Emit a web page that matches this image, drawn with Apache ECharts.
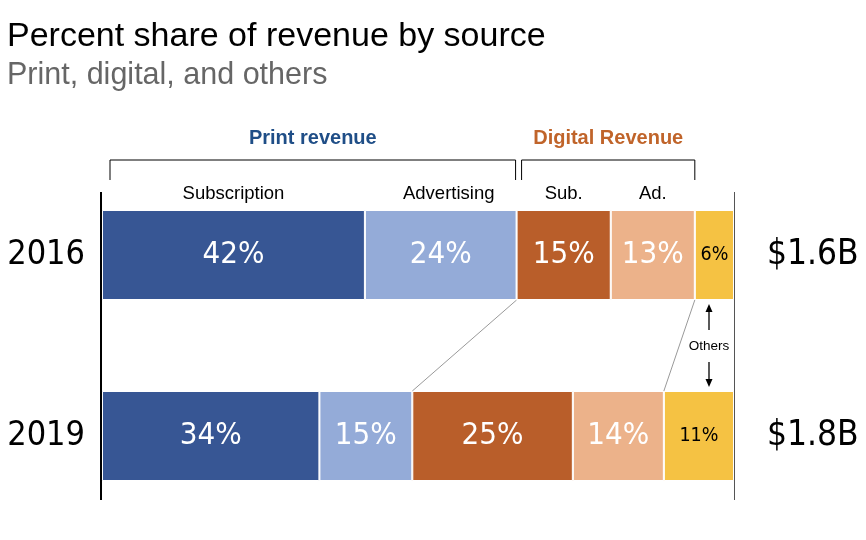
<!DOCTYPE html>
<html>
<head>
<meta charset="utf-8">
<script src="https://cdn.jsdelivr.net/npm/echarts@6/dist/echarts.min.js"></script>
<style>
  html, body { margin: 0; padding: 0; background: #fff; }
  #chart { width: 866px; height: 540px; }
</style>
</head>
<body>
<div id="chart"></div>
<script>
// data (percent share of each year's revenue)
var years = ['2016', '2019'];
var totals = ['$1.6B', '$1.8B'];
var sources = ['Subscription', 'Advertising', 'Sub.', 'Ad.', 'Others'];
var printSub = [41.6, 34.4];
var printAd = [24.0, 14.7];
var digitalSub = [14.9, 25.4];
var digitalAd = [13.3, 14.4];
var others = [6.2, 11.1];
var groups = ['Print revenue', 'Digital Revenue'];

var colors = ['#375694', '#94abd8', '#b95e2a', '#ecb28a', '#f5c243'];
var numFont = '"DejaVu Sans Condensed", "DejaVu Sans", sans-serif';
var txtFont = '"Liberation Sans", Arial, sans-serif';

var chart = echarts.init(document.getElementById('chart'));

var values = [printSub, printAd, digitalSub, digitalAd, others];
var series = values.map(function (vals, i) {
  var small = i === 4;
  return {
    name: sources[i],
    type: 'bar',
    stack: 'share',
    barWidth: 90,
    data: vals,
    itemStyle: { color: colors[i], borderColor: '#fff', borderWidth: 1 },
    label: {
      show: true,
      position: 'inside',
      color: small ? '#000' : '#fff',
      fontSize: small ? 19.5 : 31,
      fontFamily: numFont,
      formatter: function (p) { return Math.round(p.value) + '%'; }
    },
    emphasis: { disabled: true },
    silent: true
  };
});

var option = {
  animation: false,
  title: {
    text: 'Percent share of revenue by source',
    subtext: 'Print, digital, and others',
    left: 2,
    top: 15,
    itemGap: 6,
    textStyle: { fontSize: 34, fontWeight: 'normal', color: '#000', fontFamily: txtFont },
    subtextStyle: { fontSize: 30.5, color: '#666', fontFamily: txtFont }
  },
  grid: { left: 102, right: 132, top: 164.5, height: 362 },
  xAxis: { type: 'value', min: 0, max: 100, show: false },
  yAxis: [
    {
      type: 'category',
      data: years,
      inverse: true,
      axisLine: { show: false },
      axisTick: { show: false },
      axisLabel: { fontSize: 34, color: '#000', margin: 17, fontFamily: numFont }
    },
    {
      type: 'category',
      position: 'right',
      data: totals,
      inverse: true,
      axisLine: { show: false },
      axisTick: { show: false },
      axisLabel: { fontSize: 35, color: '#000', margin: 33, fontFamily: numFont }
    }
  ],
  series: series
};

chart.setOption(option);

// annotations placed through the chart's own scales
function px(v, row) {
  return chart.convertToPixel({ xAxisIndex: 0, yAxisIndex: 0 }, [v, row]);
}
var half = 45;
var top16 = px(0, 0)[1] - half, bot16 = px(0, 0)[1] + half;
var top19 = px(0, 1)[1] - half, bot19 = px(0, 1)[1] + half;
var x0 = px(0, 0)[0], x100 = px(100, 0)[0];

function cum(arrIdx, row) {
  var s = 0;
  for (var i = 0; i < arrIdx; i++) s += values[i][row];
  return s;
}

var g = [];

// axis frame lines
g.push({ type: 'line', z: 10, shape: { x1: x0 - 1, y1: top16 - 18, x2: x0 - 1, y2: bot19 + 19 }, style: { stroke: '#000', lineWidth: 2 } });
g.push({ type: 'line', z: 10, shape: { x1: x100 + 0.5, y1: top16 - 18, x2: x100 + 0.5, y2: bot19 + 19 }, style: { stroke: '#555', lineWidth: 1 } });

// segment names above 2016 bar
for (var i = 0; i < 4; i++) {
  var mid = cum(i, 0) + values[i][0] / 2;
  g.push({
    type: 'text', x: px(mid, 0)[0] + (i === 1 ? 8 : 0), y: top16 - 16,
    style: { text: sources[i], fill: '#000', fontSize: 18.5, fontFamily: txtFont, align: 'center', verticalAlign: 'middle' }
  });
}

// brackets and group titles
var pEnd = px(cum(2, 0), 0)[0];
var dEnd = px(cum(4, 0), 0)[0];
var brackets = [[x0 + 8, pEnd - 1, '#1f4e87'], [pEnd + 5, dEnd, '#c0642a']];
brackets.forEach(function (b, k) {
  g.push({
    type: 'polyline',
    shape: { points: [[b[0], top16 - 30], [b[0], top16 - 50], [b[1], top16 - 50], [b[1], top16 - 30]] },
    style: { stroke: '#000', lineWidth: 1, fill: null }
  });
  g.push({
    type: 'text', x: (b[0] + b[1]) / 2, y: top16 - 72,
    style: { text: groups[k], fill: b[2], fontSize: 20, fontWeight: 'bold', fontFamily: txtFont, align: 'center', verticalAlign: 'middle' }
  });
});

// connector lines from 2016 to 2019 segment boundaries
[2, 4].forEach(function (k) {
  g.push({
    type: 'line',
    shape: { x1: px(cum(k, 0), 0)[0], y1: bot16, x2: px(cum(k, 1), 1)[0], y2: top19 },
    style: { stroke: '#999', lineWidth: 1 }
  });
});

// "Others" arrows
var ax = x100 - 25;
var midY = (bot16 + top19) / 2;
g.push({ type: 'line', shape: { x1: ax, y1: bot16 + 30, x2: ax, y2: bot16 + 8 }, style: { stroke: '#000', lineWidth: 1.3 } });
g.push({ type: 'polygon', shape: { points: [[ax, bot16 + 4], [ax - 3.5, bot16 + 12], [ax + 3.5, bot16 + 12]] }, style: { fill: '#000' } });
g.push({ type: 'line', shape: { x1: ax, y1: top19 - 29, x2: ax, y2: top19 - 8 }, style: { stroke: '#000', lineWidth: 1.3 } });
g.push({ type: 'polygon', shape: { points: [[ax, top19 - 4], [ax - 3.5, top19 - 12], [ax + 3.5, top19 - 12]] }, style: { fill: '#000' } });
g.push({
  type: 'text', x: ax, y: midY + 1,
  style: { text: sources[4], fill: '#000', fontSize: 13.5, fontFamily: txtFont, align: 'center', verticalAlign: 'middle' }
});

chart.setOption({ graphic: { elements: g } });
</script>
</body>
</html>
